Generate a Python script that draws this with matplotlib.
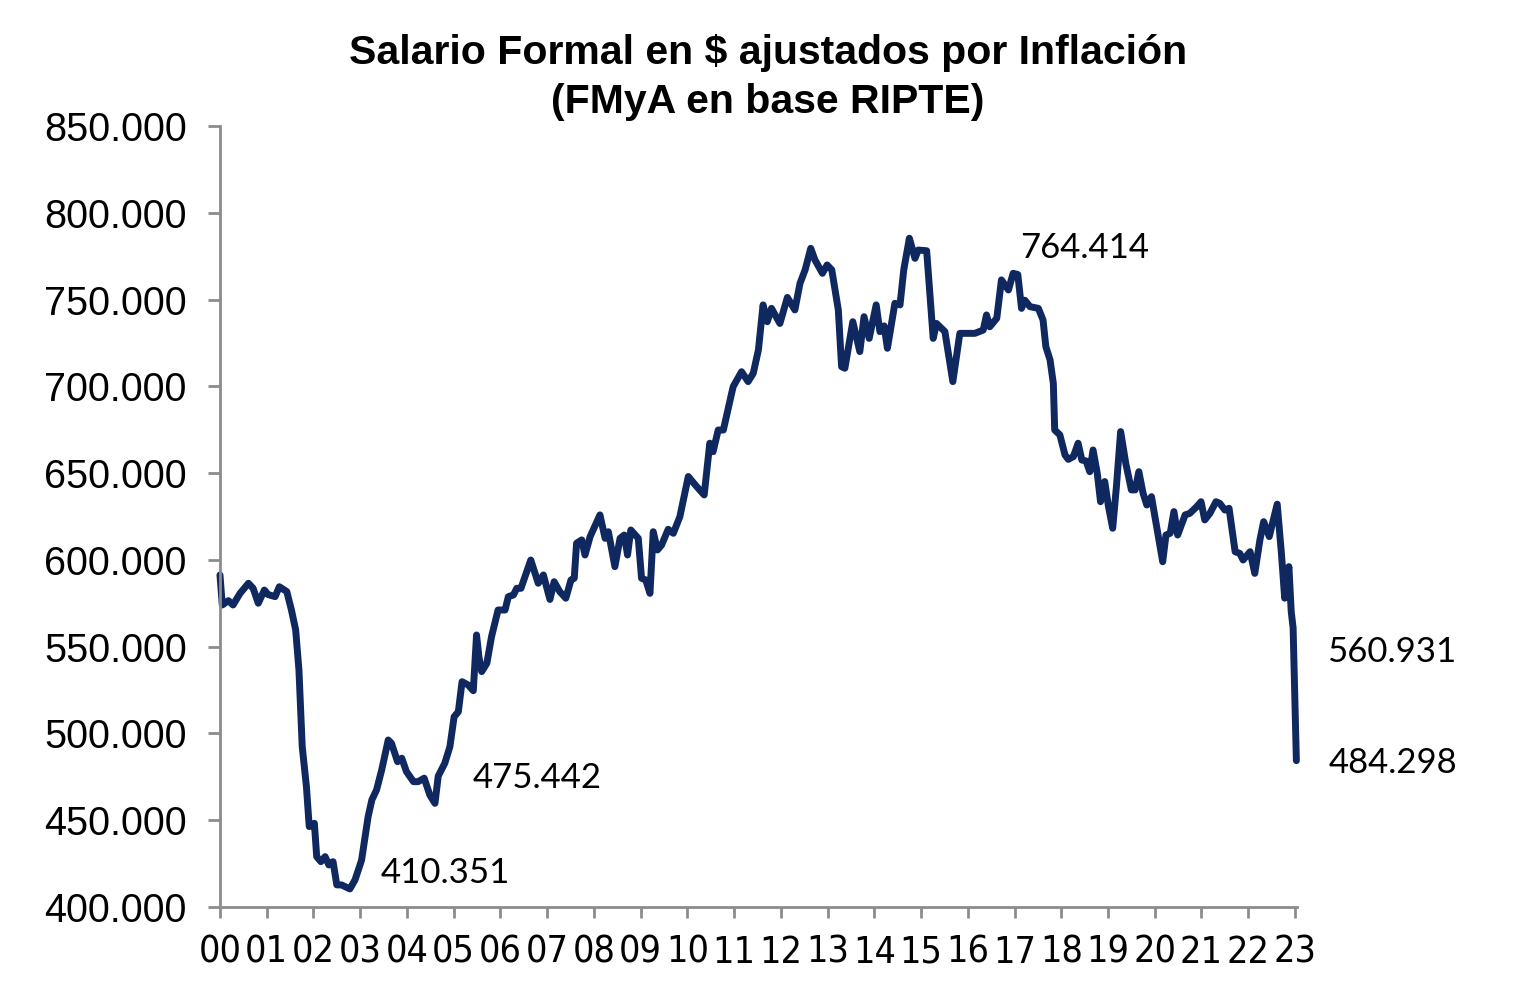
import matplotlib
matplotlib.use("Agg")
import matplotlib.pyplot as plt
from matplotlib import font_manager

# time in years since 2000 (tick "00" = 0), value in thousands of $
years = [
    0.00, 0.05, 0.18, 0.28, 0.43, 0.61, 0.71, 0.82, 0.95, 1.03, 1.18, 1.27, 1.43, 1.53,
    1.62, 1.69, 1.76, 1.85, 1.91, 2.02, 2.07, 2.16, 2.25, 2.33, 2.42, 2.50, 2.60, 2.78,
    2.89, 3.03, 3.17, 3.25, 3.35, 3.46, 3.60, 3.67, 3.80, 3.89, 3.99, 4.14, 4.24, 4.37,
    4.49, 4.60, 4.67, 4.81, 4.92, 5.01, 5.10, 5.18, 5.31, 5.42, 5.49, 5.54, 5.60, 5.71,
    5.81, 5.95, 6.10, 6.17, 6.28, 6.35, 6.44, 6.65, 6.81, 6.92, 7.06, 7.15, 7.27, 7.40,
    7.51, 7.58, 7.63, 7.74, 7.81, 7.92, 8.13, 8.24, 8.31, 8.45, 8.56, 8.65, 8.72, 8.79,
    8.95, 9.02, 9.11, 9.20, 9.27, 9.36, 9.45, 9.59, 9.70, 9.84, 10.02, 10.20, 10.36, 10.48,
    10.55, 10.66, 10.77, 10.98, 11.16, 11.30, 11.41, 11.52, 11.62, 11.71, 11.80, 11.98,
    12.14, 12.30, 12.41, 12.52, 12.64, 12.73, 12.89, 12.99, 13.09, 13.23, 13.30, 13.37,
    13.54, 13.69, 13.78, 13.89, 14.04, 14.12, 14.21, 14.28, 14.44, 14.55, 14.63, 14.75,
    14.87, 14.94, 15.12, 15.26, 15.33, 15.51, 15.68, 15.83, 16.15, 16.33, 16.40, 16.47,
    16.62, 16.72, 16.87, 16.97, 17.07, 17.15, 17.22, 17.33, 17.51, 17.61, 17.67, 17.76,
    17.83, 17.86, 17.97, 18.08, 18.15, 18.26, 18.36, 18.44, 18.53, 18.61, 18.68, 18.77,
    18.84, 18.93, 19.01, 19.10, 19.18, 19.27, 19.38, 19.50, 19.58, 19.66, 19.75, 19.83,
    19.93, 20.04, 20.17, 20.24, 20.33, 20.41, 20.49, 20.65, 20.75, 20.90, 20.99, 21.07,
    21.18, 21.31, 21.39, 21.50, 21.59, 21.72, 21.82, 21.89, 22.04, 22.14, 22.25, 22.33,
    22.45, 22.62, 22.71, 22.78, 22.87, 22.92, 22.96, 23.03,
]
salario = [
    591.3, 574.0, 576.5, 574.0, 580.7, 586.5, 583.6, 575.0, 582.6, 580.0, 578.8, 584.5, 581.7, 571.0,
    559.6, 536.5, 492.4, 469.3, 446.3, 448.2, 429.0, 426.1, 429.0, 424.2, 426.1, 412.7, 412.7, 410.4,
    415.6, 427.0, 452.0, 461.7, 467.4, 478.9, 496.2, 494.3, 483.7, 485.7, 478.0, 472.2, 472.2, 474.2,
    464.5, 459.7, 475.4, 482.8, 492.4, 509.6, 512.5, 529.8, 527.9, 524.6, 556.7, 544.2, 535.6, 540.4,
    555.7, 571.1, 571.1, 578.8, 579.8, 583.6, 583.6, 599.9, 586.5, 591.3, 577.2, 587.4, 581.7, 577.9,
    588.4, 589.4, 609.6, 611.5, 602.8, 613.4, 625.9, 612.4, 616.2, 596.1, 612.4, 614.3, 602.8, 617.2,
    612.4, 589.4, 588.4, 580.7, 616.2, 605.7, 608.6, 617.6, 615.3, 624.9, 648.0, 642.2, 637.4, 667.2,
    662.3, 674.8, 674.8, 699.8, 708.4, 702.7, 707.5, 720.9, 746.9, 737.2, 744.9, 736.2,
    751.2, 744.0, 759.3, 767.1, 779.5, 772.8, 765.1, 769.9, 767.1, 744.0, 711.3, 710.4,
    737.2, 720.0, 740.1, 727.6, 746.9, 731.5, 734.8, 721.9, 747.8, 746.9, 767.1, 785.3,
    773.7, 778.5, 778.1, 727.6, 736.2, 731.5, 702.7, 730.5, 730.5, 732.4, 741.1, 734.3,
    739.2, 761.3, 755.5, 765.1, 764.4, 744.9, 749.6, 745.9, 744.9, 738.2, 722.8, 715.2,
    701.7, 674.8, 672.0, 660.4, 657.9, 659.5, 667.2, 657.5, 657.0, 650.8, 663.3, 649.9,
    633.5, 645.1, 630.7, 618.2, 642.2, 673.9, 655.6, 640.3, 640.3, 650.8, 638.4, 631.6,
    636.4, 619.1, 598.9, 614.3, 615.3, 627.8, 614.3, 625.9, 626.8, 630.7, 633.5, 623.0,
    626.8, 633.5, 632.6, 628.7, 629.7, 604.7, 603.7, 599.9, 604.7, 592.2, 611.5, 622.0,
    613.4, 632.1, 603.7, 577.9, 596.1, 570.1, 560.9, 484.3,
]

tick_years = list(range(0, 24))
tick_labels = [f"{y:02d}" for y in tick_years]
y_ticks = [400, 450, 500, 550, 600, 650, 700, 750, 800, 850]

# annotated values and where their text sits (data coords)
note_texts = ["764.414", "475.442", "410.351", "560.931", "484.298"]
note_pos = [(17.12, 779.7), (5.41, 474.3), (3.44, 419.6), (23.68, 546.9), (23.72, 483.0)]

line_color = "#0F2860"
axis_color = "#8C8C8C"

# the x labels in the original are a narrow sans; use one if installed
installed = font_manager.fontManager.ttflist
if any(f.name == "Liberation Sans Narrow" for f in installed):
    xfont = dict(family=["Liberation Sans Narrow"], fontsize=28)
elif any(f.name == "DejaVu Sans" and f.stretch == "condensed" for f in installed):
    xfont = dict(family=["DejaVu Sans"], fontstretch="condensed", fontsize=27)
else:
    xfont = dict(family=["Liberation Sans"], fontsize=22)

fig = plt.figure(figsize=(15.36, 9.91), dpi=100)
ax = fig.add_axes([0.1432, 0.0848, 0.7014, 0.7881])

ax.plot(years, salario, color=line_color, lw=5.0, solid_joinstyle="round",
        solid_capstyle="round", clip_on=False)

ax.set_xlim(0, 23.05)
ax.set_ylim(400, 850)

ax.set_yticks(y_ticks)
ax.set_yticklabels([f"{v}.000" for v in y_ticks], fontsize=28.5,
                   family=["Liberation Sans", "DejaVu Sans"])
ax.set_xticks(tick_years)
ax.set_xticklabels(tick_labels, **xfont)

for side in ("top", "right"):
    ax.spines[side].set_visible(False)
for side in ("left", "bottom"):
    ax.spines[side].set_color(axis_color)
    ax.spines[side].set_linewidth(2)
ax.tick_params(axis="y", direction="out", length=9, width=2, color=axis_color, pad=15)
ax.tick_params(axis="x", direction="out", length=8, width=2, color=axis_color, pad=12)

for txt, (xx, yy) in zip(note_texts, note_pos):
    ax.text(xx, yy, txt, fontsize=25, family=["Lato", "DejaVu Sans"], ha="left",
            va="center", color="black", clip_on=False)

fig.text(0.5, 1 - 34 / 991, "Salario Formal en $ ajustados por Inflación\n(FMyA en base RIPTE)",
         ha="center", va="top", fontsize=29.5, fontweight="bold", linespacing=1.36,
         family=["Liberation Sans", "DejaVu Sans"])

fig.savefig("out.png", dpi=100, facecolor="white")
